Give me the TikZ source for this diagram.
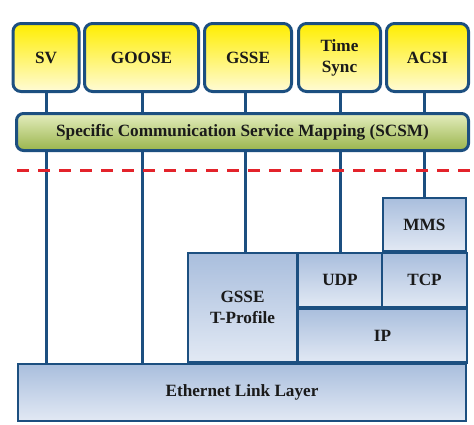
\documentclass[tikz,border=0pt]{standalone}
\usepackage{fontspec}
\setmainfont{Liberation Serif}
\usetikzlibrary{backgrounds}
\definecolor{navy}{HTML}{1C4F80}
\definecolor{txt}{HTML}{1A1A1A}
\definecolor{ytop}{HTML}{FFEE00}
\definecolor{ybot}{HTML}{FFFBD6}
\definecolor{gtop}{HTML}{E4EDBE}
\definecolor{gbot}{HTML}{9AB54C}
\definecolor{btop}{HTML}{A9BEDD}
\definecolor{bbot}{HTML}{E2E9F4}
\definecolor{dashred}{HTML}{E3232B}
\tikzset{
  lbl/.style={font=\fontsize{17.2}{21}\selectfont\bfseries, text=txt, align=center, inner sep=0pt},
  topbox/.style={lbl, draw=navy, line width=3pt, rounded corners=8pt, top color=ytop, bottom color=ybot, minimum height=68pt},
  mapbox/.style={lbl, draw=navy, line width=3pt, rounded corners=7pt, top color=gtop, bottom color=gbot, minimum height=37pt, minimum width=452pt},
  layerbox/.style={lbl, draw=navy, line width=2.5pt, top color=btop, bottom color=bbot},
  link/.style={draw=navy, line width=3pt},
  cut/.style={draw=dashred, line width=3pt, dash pattern=on 12pt off 9pt}
}
\begin{document}
\begin{tikzpicture}[x=1pt,y=-1pt]
\useasboundingbox (0,0) rectangle (474,424);
% top services
\node[topbox, minimum width=66pt] (sv) at (46,57.5) {SV};
\node[topbox, minimum width=114pt] (goose) at (141.5,57.5) {GOOSE};
\node[topbox, minimum width=87pt] (gsse) at (248,57.5) {GSSE};
\node[topbox, minimum width=82pt] (ts) at (339.5,57.5) {Time\\Sync};
\node[topbox, minimum width=82pt] (acsi) at (427.5,57.5) {ACSI};
% mapping
\node[mapbox] (scsm) at (242.5,132) {Specific Communication Service Mapping (SCSM)};
% layers
\node[layerbox, minimum width=83pt, minimum height=53pt] (mms) at (424.5,224.5) {MMS};
\node[layerbox, minimum width=109pt, minimum height=109pt] (gp) at (242.5,307.5) {GSSE\\T-Profile};
\node[layerbox, minimum width=84pt, minimum height=54pt] (udp) at (340,280) {UDP};
\node[layerbox, minimum width=85pt, minimum height=54pt] (tcp) at (424.5,280) {TCP};
\node[layerbox, minimum width=169pt, minimum height=54pt] (ip) at (382.5,335.5) {IP};
\node[layerbox, minimum width=448pt, minimum height=57pt] (eth) at (242,392.5) {Ethernet Link Layer};
% connectors
\begin{pgfonlayer}{background}
\fill[white] (0,0) rectangle (474,424);
\draw[link] (sv.south) -- (sv.south |- eth.north);
\draw[link] ([xshift=1pt]goose.south) -- ([xshift=1pt]goose.south |- eth.north);
\draw[link] ([xshift=-3pt]gsse.south) -- ([xshift=-3pt]gsse.south |- gp.north);
\draw[link] ([xshift=1pt]ts.south) -- ([xshift=1pt]ts.south |- udp.north);
\draw[link] ([xshift=-3.5pt]acsi.south) -- ([xshift=-3.5pt]acsi.south |- mms.north);
\end{pgfonlayer}
\coordinate (dl) at (17,170);
\coordinate (dr) at (474,170);
\draw[cut] (dl) -- (dr);
\end{tikzpicture}
\end{document}
